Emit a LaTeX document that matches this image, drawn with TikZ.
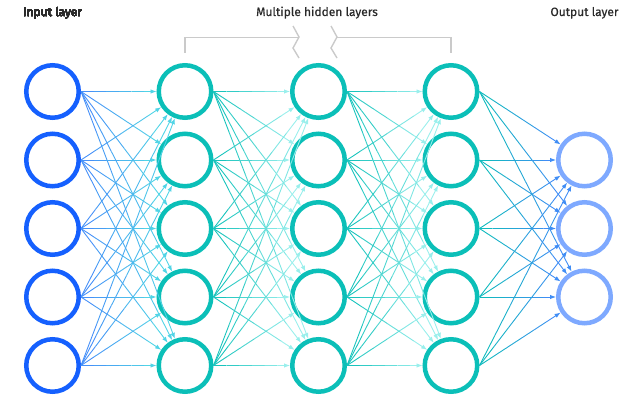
\documentclass[tikz,border=0pt]{standalone}
\usepackage{fontspec}
\setmainfont{Fira Sans}
\newfontfamily\labelfont{Fira Sans}[FakeBold=0.6]
\usetikzlibrary{calc}
\usetikzlibrary{arrows.meta}
\definecolor{inblue}{HTML}{1560FE}
\definecolor{hidteal}{HTML}{0BBFB8}
\definecolor{outblue}{HTML}{7EA9FF}
\definecolor{edgeblue}{HTML}{4589FA}
\definecolor{edgecyan}{HTML}{52DAE4}
\definecolor{edgepale}{HTML}{A6F3F1}
\definecolor{bracketgray}{HTML}{CACACA}
\definecolor{labelgray}{HTML}{2A2A2A}
\tikzset{neuron/.style = {circle, draw, line width=4.5pt, fill=white,
                          minimum size=52.5pt, inner sep=0pt}}
\tikzset{synapse/.style = {line width=0.9pt}}
\tikzset{layerlabel/.style = {anchor=base, text=labelgray, font=\labelfont\fontsize{12}{14}\selectfont}}
\tikzset{bracket/.style = {draw=bracketgray, line width=1.4pt}}
% one edge, shaded from #3 to #4 in a few steps
\newcommand{\gradlink}[4]{%
  \coordinate (s) at (#1.east);
  \coordinate (e) at ($(#2.center)!28.5pt!(s)$);
  \foreach \k [evaluate=\k as \fa using \k/6,
               evaluate=\k as \fb using (\k+1)/6,
               evaluate=\k as \mix using int(100-(\k+0.5)*100/6)] in {0,...,5}{%
    \ifnum\k=5
      \draw[synapse, draw={#3!\mix!#4}, -{Latex[length=6pt,width=4.5pt]}]
        ($(s)!\fa!(e)$) -- ($(s)!\fb!(e)$);
    \else
      \draw[synapse, draw={#3!\mix!#4}]
        ($(s)!\fa!(e)$) -- ($(s)!\fb!(e)$);
    \fi
  }}

\begin{document}
\begin{tikzpicture}[x=1pt, y=-1pt]
  \useasboundingbox (0,0) rectangle (640,404);
  % layers
  \foreach \i in {1,...,5}{
    \node[neuron, draw=inblue]  (in\i) at (52.5, {91.5+68.5*(\i-1)}) {};
    \node[neuron, draw=hidteal] (ha\i) at (185,  {91.5+68.5*(\i-1)}) {};
    \node[neuron, draw=hidteal] (hb\i) at (318.5,{91.5+68.5*(\i-1)}) {};
    \node[neuron, draw=hidteal] (hc\i) at (451,  {91.5+68.5*(\i-1)}) {};
  }
  \foreach \i in {1,2,3}
    \node[neuron, draw=outblue] (out\i) at (584.5, {160+68.5*(\i-1)}) {};
  % connections
  \foreach \i in {1,...,5}
    \foreach \j in {1,...,5}{
      \gradlink{in\i}{ha\j}{edgeblue}{edgecyan}
      \gradlink{ha\i}{hb\j}{hidteal}{edgepale}
      \gradlink{hb\i}{hc\j}{hidteal}{edgepale}
    }
  \foreach \i in {1,...,5}
    \foreach \j in {1,2,3}
      \gradlink{hc\i}{out\j}{hidteal}{edgeblue}
  % labels
  \node[layerlabel] (lblin)  at (52.5,16)  {Input layer};
  \node[layerlabel] (lblhid) at (317,16)   {Multiple hidden layers};
  \node[layerlabel] (lblout) at (584.5,16) {Output layer};
  % bracket with breaks
  \draw[bracket] (ha1.center |- 0,53) -- (ha1.center |- 0,37.5) -- (299,37.5);
  \draw[bracket] (293,26) -- (299,37) -- (293,48) -- (299,58);
  \draw[bracket] (331,26) -- (337,37) -- (331,48) -- (337,58);
  \draw[bracket] (337,37.5) -- (hc1.center |- 0,37.5) -- (hc1.center |- 0,53);
\end{tikzpicture}
\end{document}
